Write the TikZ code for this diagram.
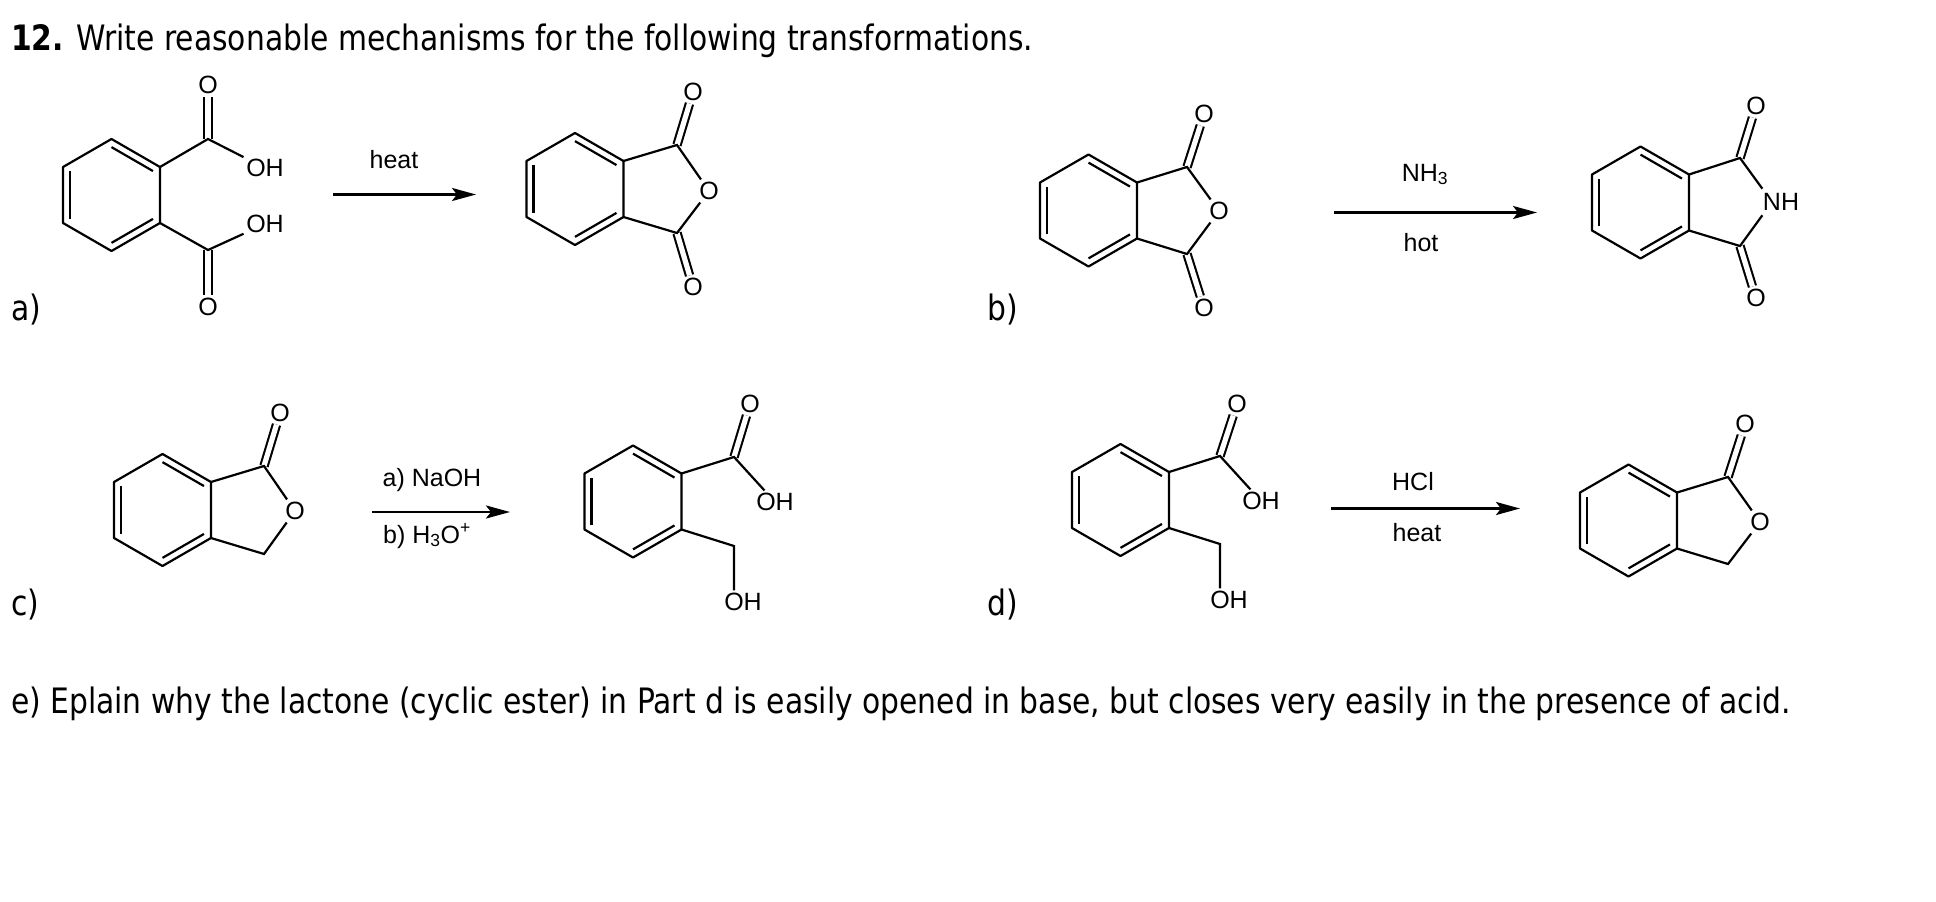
\documentclass[tikz,border=0pt]{standalone}
\usepackage{fontspec}
\setmainfont[FakeStretch=0.945]{DejaVu Sans Condensed}
\newfontfamily\chemfont{Liberation Sans}
\usetikzlibrary{calc,arrows.meta}

\tikzset{
	bond/.style={line width=2.2pt},
	dbond/.style={line width=2.1pt,double,double distance=5.2pt},
	rxn/.style={line width=2.6pt,-{Stealth[length=24pt,width=13pt,inset=5pt]}},
	atom/.style={font=\chemfont\fontsize{25}{25}\selectfont,inner sep=2.5pt},
	reagent/.style={font=\chemfont\fontsize{25}{25}\selectfont,inner sep=0pt,anchor=base},
	words/.style={font=\fontsize{35}{35}\selectfont,inner sep=0pt,anchor=base west},
}

% benzene ring: name, centre x, centre y
\newcommand{\arene}[3]{
	\foreach \i/\ang in {1/270,2/330,3/30,4/90,5/150,6/210}
		\coordinate (#1\i) at ([shift={(#2,#3)}]\ang:56);
	\coordinate (#1m) at (#2,#3);
	\draw[bond,line join=round] (#11)--(#12)--(#13)--(#14)--(#15)--(#16)--cycle;
	\draw[bond] ($(#1m)!0.855!(#11)$)--($(#1m)!0.855!(#12)$);
	\draw[bond] ($(#1m)!0.855!(#13)$)--($(#1m)!0.855!(#14)$);
	\draw[bond] ($(#1m)!0.855!(#15)$)--($(#1m)!0.855!(#16)$);
}

\begin{document}
\begin{tikzpicture}[x=1pt,y=-1pt]
	\useasboundingbox (0,0) rectangle (1936,902);

	\node[words] (title) at (11,50) {\textbf{12.} Write reasonable mechanisms for the following transformations.};
	\node[words] (la) at (11,320) {a)};
	\node[words] (lb) at (987,320) {b)};
	\node[words] (lc) at (11,615) {c)};
	\node[words] (ld) at (987,615) {d)};
	\node[words] (le) at (11,713) {e) Eplain why the lactone (cyclic ester) in Part d is easily opened in base, but closes very easily in the presence of acid.};

	% part a
	\coordinate (Ac1) at (208,139);
	\coordinate (Ac2) at (208,250);
	\node[atom] (Ao1) at (208,85) {O};
	\node[atom] (Ao2) at (208,307) {O};
	\node[atom] (Ah1) at (265,168) {OH};
	\node[atom] (Ah2) at (265,224) {OH};
	\draw[dbond] (Ac1)--(Ao1);
	\draw[dbond] (Ac2)--(Ao2);
	\arene{Ar}{111.5}{195}
	\draw[bond] (Ar2)--(Ac1)--(Ah1);
	\draw[bond] (Ar3)--(Ac2)--(Ah2);

	\coordinate (Bc1) at (677,145);
	\coordinate (Bc2) at (677,233);
	\node[atom] (Bo1) at (693,92) {O};
	\node[atom] (Bo2) at (693,287) {O};
	\node[atom] (Bo3) at (709,191) {O};
	\draw[dbond] (Bc1)--(Bo1);
	\draw[dbond] (Bc2)--(Bo2);
	\arene{Br}{575}{189}
	\draw[bond] (Br2)--(Bc1)--(Bo3)--(Bc2)--(Br3);

	\coordinate (s1) at (333,194.5);
	\coordinate (e1) at (476,194.5);
	\draw[rxn] (s1)--(e1);
	\node[reagent] (r1) at (394,168) {heat};

	% part b
	\coordinate (Cc1) at (1187,167);
	\coordinate (Cc2) at (1187,254);
	\node[atom] (Co1) at (1204,114) {O};
	\node[atom] (Co2) at (1204,308) {O};
	\node[atom] (Co3) at (1219,211) {O};
	\draw[dbond] (Cc1)--(Co1);
	\draw[dbond] (Cc2)--(Co2);
	\arene{Cr}{1088.5}{210.5}
	\draw[bond] (Cr2)--(Cc1)--(Co3)--(Cc2)--(Cr3);

	\coordinate (Dc1) at (1740,158);
	\coordinate (Dc2) at (1740,246);
	\node[atom] (Do1) at (1756,106) {O};
	\node[atom] (Do2) at (1756,298) {O};
	\node[atom,inner sep=4.5pt] (Dn) at (1772,202) {N\rlap{H}};
	\draw[dbond] (Dc1)--(Do1);
	\draw[dbond] (Dc2)--(Do2);
	\arene{Dr}{1640.5}{202.5}
	\draw[bond] (Dr2)--(Dc1)--(Dn)--(Dc2)--(Dr3);

	\coordinate (s2) at (1334,212.5);
	\coordinate (e2) at (1537,212.5);
	\draw[rxn] (s2)--(e2);
	\node[reagent] (r2) at (1425,181) {NH\textsubscript{3}};
	\node[reagent] (r3) at (1421,251) {hot};

	% part c
	\coordinate (Ec1) at (264,466);
	\coordinate (Ec2) at (264,554);
	\node[atom] (Eo1) at (280,413) {O};
	\node[atom] (Eo2) at (295,511) {O};
	\draw[dbond] (Ec1)--(Eo1);
	\arene{Er}{162.5}{510}
	\draw[bond] (Er2)--(Ec1)--(Eo2)--(Ec2)--(Er3);

	\coordinate (Fc1) at (734,457);
	\coordinate (Fc2) at (734,546);
	\node[atom] (Fo1) at (750,404) {O};
	\node[atom] (Fh1) at (775,502) {OH};
	\node[atom] (Fh2) at (743,602) {OH};
	\draw[dbond] (Fc1)--(Fo1);
	\arene{Fr}{633}{501.5}
	\draw[bond] (Fr2)--(Fc1)--(Fh1);
	\draw[bond] (Fr3)--(Fc2)--(Fc2 |- Fh2.north);

	\coordinate (s3) at (372,512);
	\coordinate (e3) at (510,512);
	\draw[rxn] (s3)--(e3);
	\node[reagent] (r4) at (432,486) {a) NaOH};
	\node[reagent] (r5) at (427,543) {b) H\textsubscript{3}O\textsuperscript{+}};

	% part d
	\coordinate (Gc1) at (1220,456);
	\coordinate (Gc2) at (1220,544);
	\node[atom] (Go1) at (1237,404) {O};
	\node[atom] (Gh1) at (1261,501) {OH};
	\node[atom] (Gh2) at (1229,600) {OH};
	\draw[dbond] (Gc1)--(Go1);
	\arene{Gr}{1120.5}{500}
	\draw[bond] (Gr2)--(Gc1)--(Gh1);
	\draw[bond] (Gr3)--(Gc2)--(Gc2 |- Gh2.north);

	\coordinate (Hc1) at (1728,477);
	\coordinate (Hc2) at (1728,564);
	\node[atom] (Ho1) at (1745,424) {O};
	\node[atom] (Ho2) at (1760,522) {O};
	\draw[dbond] (Hc1)--(Ho1);
	\arene{Hr}{1628.5}{520.5}
	\draw[bond] (Hr2)--(Hc1)--(Ho2)--(Hc2)--(Hr3);

	\coordinate (s4) at (1331,508.5);
	\coordinate (e4) at (1520,508.5);
	\draw[rxn] (s4)--(e4);
	\node[reagent] (r6) at (1413,490) {HCl};
	\node[reagent] (r7) at (1417,541) {heat};
\end{tikzpicture}
\end{document}
